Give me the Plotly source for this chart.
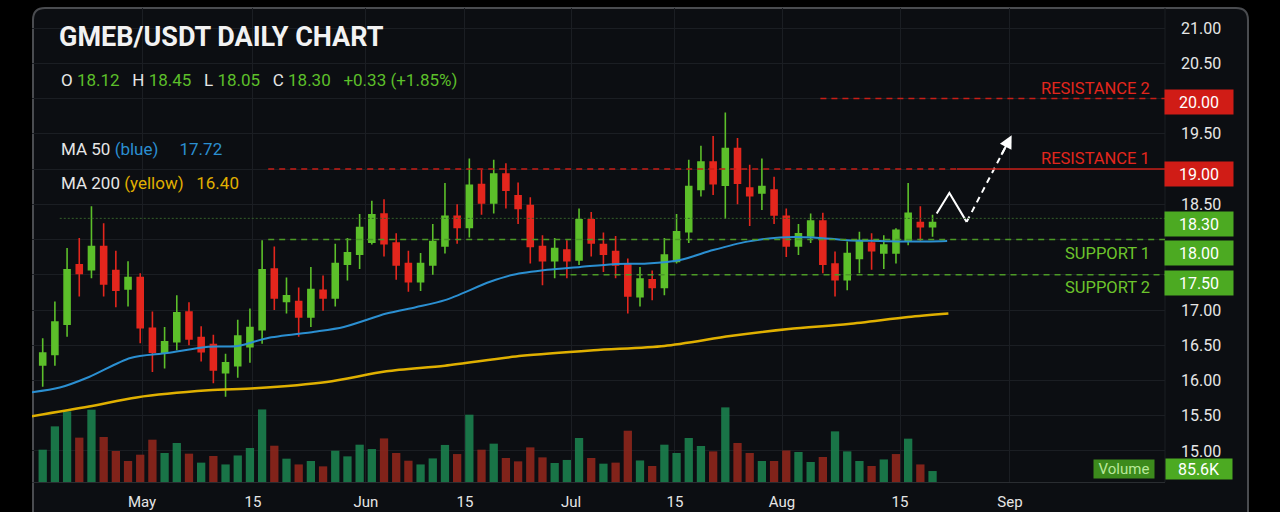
import plotly.graph_objects as go

# ---------------- data ----------------
OPEN = [16.22, 16.37, 16.80, 17.64, 17.57, 17.90, 17.56, 17.30, 17.46, 16.74,
        16.40, 16.55, 16.97, 16.61, 16.51, 16.11, 16.21, 16.48, 16.72, 17.58,
        17.12, 17.12, 16.90, 17.28, 17.17, 17.65, 17.79, 17.96, 18.36, 17.95,
        17.66, 17.40, 17.64, 17.91, 18.33, 18.17, 18.78, 18.52, 18.93, 18.62,
        18.48, 17.90, 17.70, 17.85, 17.71, 18.28, 17.93, 17.83, 17.64, 17.19,
        17.43, 17.32, 17.69, 18.11, 18.71, 19.10, 18.77, 19.29, 18.73, 18.66,
        18.70, 18.33, 17.91, 18.05, 18.26, 17.65, 17.43, 17.73, 17.95, 17.81,
        17.81, 17.99, 18.24, 18.18]
HIGH = [16.60, 17.12, 17.88, 18.02, 18.47, 18.23, 17.84, 17.69, 17.52, 16.98,
        16.76, 17.21, 17.11, 16.77, 16.65, 16.38, 16.86, 17.02, 17.99, 17.90,
        17.46, 17.32, 17.61, 17.49, 17.94, 18.02, 18.36, 18.55, 18.57, 18.09,
        17.84, 17.81, 18.22, 18.80, 18.50, 19.15, 18.99, 19.13, 19.08, 18.81,
        18.60, 18.06, 18.02, 17.99, 18.44, 18.39, 18.10, 18.05, 17.73, 17.61,
        17.56, 18.02, 18.36, 19.13, 19.33, 19.47, 19.80, 19.44, 19.06, 19.15,
        18.89, 18.44, 18.22, 18.37, 18.38, 17.83, 17.97, 18.11, 18.09, 18.06,
        18.16, 18.80, 18.47, 18.35]
LOW = [15.91, 16.21, 16.62, 17.19, 17.45, 17.19, 17.04, 17.05, 16.53, 16.12,
       16.17, 16.43, 16.50, 16.27, 15.96, 15.77, 16.04, 16.25, 16.52, 17.00,
       16.95, 16.62, 16.76, 16.99, 17.05, 17.42, 17.58, 17.93, 17.76, 17.43,
       17.26, 17.27, 17.50, 17.80, 17.94, 18.03, 18.35, 18.37, 18.44, 18.22,
       17.66, 17.35, 17.45, 17.45, 17.64, 17.76, 17.54, 17.45, 16.95, 17.05,
       17.14, 17.21, 17.66, 17.95, 18.61, 18.63, 18.29, 18.50, 18.19, 18.42,
       18.22, 17.75, 17.78, 17.95, 17.52, 17.19, 17.28, 17.52, 17.57, 17.58,
       17.66, 17.92, 17.97, 18.04]
CLOSE = [16.39, 16.83, 17.57, 17.52, 17.90, 17.37, 17.28, 17.46, 16.75, 16.40,
         16.55, 16.96, 16.59, 16.41, 16.15, 16.25, 16.63, 16.75, 17.57, 17.17,
         17.20, 16.90, 17.29, 17.17, 17.66, 17.81, 18.17, 18.35, 17.94, 17.64,
         17.40, 17.66, 17.97, 18.33, 18.17, 18.77, 18.52, 18.93, 18.70, 18.44,
         17.90, 17.70, 17.87, 17.70, 18.28, 17.95, 17.79, 17.64, 17.20, 17.44,
         17.32, 17.78, 18.11, 18.75, 19.10, 18.79, 19.29, 18.80, 18.62, 18.75,
         18.35, 17.91, 18.08, 18.26, 17.65, 17.43, 17.80, 17.97, 17.84, 17.92,
         18.13, 18.37, 18.18, 18.24]
VOLUME_K = [252, 434, 551, 346, 564, 351, 242, 164, 213, 330,
            226, 304, 221, 151, 203, 137, 207, 265, 566, 283,
            182, 137, 164, 122, 244, 200, 291, 257, 340, 226,
            166, 137, 184, 289, 218, 525, 252, 299, 187, 161,
            270, 192, 148, 172, 343, 187, 143, 151, 400, 168,
            125, 291, 226, 343, 281, 239, 582, 304, 226, 164,
            164, 246, 234, 156, 195, 395, 239, 164, 125, 176,
            218, 338, 137, 85.6]
VOLUME_UP = [1, 1, 1, 0, 1, 0, 0, 0, 0, 0,
             1, 1, 0, 1, 0, 1, 1, 1, 1, 0,
             1, 0, 1, 0, 1, 1, 1, 1, 0, 0,
             0, 1, 1, 1, 0, 1, 0, 1, 0, 0,
             0, 0, 1, 1, 1, 0, 1, 0, 0, 1,
             0, 1, 1, 1, 1, 0, 1, 0, 0, 1,
             0, 0, 1, 1, 0, 1, 1, 1, 0, 1,
             0, 1, 0, 1]

MA50_X = [-1.0, 1.4, 3.8, 7.2, 10.2, 13.6, 16.0, 18.4, 22.3, 24.7, 28.2, 30.6, 33.0,
          36.7, 38.6, 41.4, 44.1, 46.8, 49.6, 52.3, 55.0, 57.8, 60.5, 63.2, 66.0,
          68.7, 71.4, 74.2]
MA50_Y = [15.83, 15.90, 16.05, 16.32, 16.39, 16.48, 16.49, 16.60, 16.69, 16.76, 16.95,
          17.04, 17.14, 17.40, 17.50, 17.57, 17.61, 17.65, 17.66, 17.71, 17.85, 17.97,
          18.03, 18.03, 17.99, 17.98, 17.97, 17.98]
MA200_X = [-1.0, 3.8, 7.7, 13.6, 17.4, 23.3, 28.2, 33.0, 39.3, 45.2, 51.0, 56.4,
           61.2, 66.1, 71.0, 74.3]
MA200_Y = [15.49, 15.63, 15.76, 15.86, 15.89, 15.98, 16.13, 16.21, 16.35, 16.43,
           16.49, 16.63, 16.73, 16.80, 16.90, 16.95]

PROJ_X = [73.34, 74.38, 75.80, 79.49]
PROJ_Y = [18.37, 18.66, 18.25, 19.48]

TICK_POS = [8.15, 17.25, 26.52, 34.64, 43.34, 51.87, 60.65, 70.33, 79.35]
TICK_TEXT = ["May", "15", "Jun", "15", "Jul", "15", "Aug", "15", "Sep"]

PRICE_TICKS = [15.0, 15.5, 16.0, 16.5, 17.0, 17.5, 18.0, 18.5, 19.0, 19.5, 20.0, 20.5, 21.0]
BOXED_TICKS = [17.5, 18.0, 19.0, 20.0]

LEVEL_NAMES = ["RESISTANCE 2", "RESISTANCE 1", "SUPPORT 1", "SUPPORT 2"]
LEVEL_VALUES = [20.0, 19.0, 18.0, 17.5]
LEVEL_KIND = ["res", "res", "sup", "sup"]
LAST_PRICE = 18.30
LAST_VOLUME = "85.6K"
OHLC_LABELS = ["O", "H", "L", "C"]
OHLC_VALUES = ["18.12", "18.45", "18.05", "18.30"]
CHANGE_TEXT = "+0.33 (+1.85%)"
MA50_VALUE = "17.72"
MA200_VALUE = "16.40"
TITLE = "GMEB/USDT DAILY CHART"

# ---------------- style / layout ----------------
W, H = 1280, 512
ML, MR, MT, MB = 32, 115, 8, 30
PX0, PX1, PY0, PY1 = ML, W - MR, MT, H - MB
XR = [-0.878, 92.07]
YR = [14.56, 21.284]
VOL_RANGE = [0, 3697]

GREEN = "#5cbf2a"
RED = "#e3261d"
BLUE = "#2b8fd1"
YELLOW = "#e0b000"
PANEL = "#0c0e12"
GRID = "#1b1e23"
TXT = "#e6e6e6"
FONT = "Roboto"


def fx(px):
    return (px - PX0) / (PX1 - PX0)


def fy(py):
    return (PY1 - py) / (PY1 - PY0)


idx = list(range(len(OPEN)))
vol_colors = ["rgba(27,128,78,0.9)" if u else "rgba(142,38,28,0.9)" for u in VOLUME_UP]

fig = go.Figure()
fig.add_trace(go.Bar(x=idx, y=VOLUME_K, marker=dict(color=vol_colors, line=dict(width=0)),
                     width=0.68, yaxis="y", hoverinfo="skip"))
fig.add_trace(go.Scatter(x=MA200_X, y=MA200_Y, mode="lines", yaxis="y2",
                         line=dict(color=YELLOW, width=2.5, shape="spline", smoothing=0.8)))
fig.add_trace(go.Scatter(x=MA50_X, y=MA50_Y, mode="lines", yaxis="y2",
                         line=dict(color=BLUE, width=2, shape="spline", smoothing=0.8)))
fig.add_trace(go.Candlestick(x=idx, open=OPEN, high=HIGH, low=LOW, close=CLOSE, yaxis="y2",
                             whiskerwidth=0,
                             increasing=dict(line=dict(color=GREEN, width=1.6), fillcolor=GREEN),
                             decreasing=dict(line=dict(color=RED, width=1.6), fillcolor=RED)))
# projection path
fig.add_trace(go.Scatter(x=PROJ_X[:3], y=PROJ_Y[:3], mode="lines", yaxis="y2",
                         line=dict(color="white", width=2)))
fig.add_trace(go.Scatter(x=PROJ_X[2:], y=PROJ_Y[2:], mode="lines", yaxis="y2",
                         line=dict(color="white", width=2, dash="6px,5px")))

shapes = []
# panel
rx, ry = 12 / (PX1 - PX0), 12 / (PY1 - PY0)
x0, x1 = fx(33), fx(1248)
y0, y1 = fy(530), fy(8)
path = (f"M {x0+rx},{y1} L {x1-rx},{y1} Q {x1},{y1} {x1},{y1-ry} L {x1},{y0} "
        f"L {x0},{y0} L {x0},{y1-ry} Q {x0},{y1} {x0+rx},{y1} Z")
shapes.append(dict(type="path", path=path, xref="paper", yref="paper", layer="below",
                   fillcolor=PANEL, line=dict(color="#4a4c50", width=2)))
shapes.append(dict(type="line", xref="paper", yref="paper", x0=1, x1=1, y0=0, y1=1,
                   line=dict(color=GRID, width=1), layer="below"))

LEVEL_START = {20.0: 63.8, 19.0: 18.5, 18.0: 18.5, 17.5: 42.4}
for name, val, kind in zip(LEVEL_NAMES, LEVEL_VALUES, LEVEL_KIND):
    col = "#c81e17" if kind == "res" else "#4c9a26"
    if val == 19.0:
        shapes.append(dict(type="line", xref="x", yref="y2", x0=LEVEL_START[val], x1=75,
                           y0=val, y1=val, line=dict(color=col, width=1.6, dash="6px,5px")))
        shapes.append(dict(type="line", xref="x", yref="y2", x0=75, x1=XR[1],
                           y0=val, y1=val, line=dict(color=col, width=1.6)))
    else:
        shapes.append(dict(type="line", xref="x", yref="y2", x0=LEVEL_START[val], x1=XR[1],
                           y0=val, y1=val, line=dict(color=col, width=1.6, dash="6px,5px")))
shapes.append(dict(type="line", xref="x", yref="y2", x0=1.4, x1=XR[1], y0=LAST_PRICE,
                   y1=LAST_PRICE, line=dict(color="#35602a", width=1, dash="2px,2px")))

ann = []
ann.append(dict(text=f"<b>{TITLE}</b>", x=fx(57), y=fy(37), xref="paper", yref="paper",
                xanchor="left", yanchor="middle", showarrow=False,
                font=dict(family=FONT, size=27, color="#f2f2f2")))
parts = []
for lab, v in zip(OHLC_LABELS, OHLC_VALUES):
    parts.append(f'<span style="color:{TXT}">{lab}</span>&nbsp;<span style="color:{GREEN}">{v}</span>')
hdr = "&nbsp;&nbsp;&nbsp;".join(parts) + f'&nbsp;&nbsp;&nbsp;<span style="color:{GREEN}">{CHANGE_TEXT}</span>'
ann.append(dict(text=hdr, x=fx(59), y=fy(80), xref="paper", yref="paper", xanchor="left",
                yanchor="middle", showarrow=False, font=dict(family=FONT, size=17)))
ann.append(dict(text=f'<span style="color:{TXT}">MA 50 </span><span style="color:{BLUE}">(blue)&nbsp;&nbsp;&nbsp;&nbsp; {MA50_VALUE}</span>',
                x=fx(59), y=fy(149), xref="paper", yref="paper", xanchor="left", yanchor="middle",
                showarrow=False, font=dict(family=FONT, size=17)))
ann.append(dict(text=f'<span style="color:{TXT}">MA 200 </span><span style="color:{YELLOW}">(yellow)&nbsp;&nbsp; {MA200_VALUE}</span>',
                x=fx(59), y=fy(183), xref="paper", yref="paper", xanchor="left", yanchor="middle",
                showarrow=False, font=dict(family=FONT, size=17)))

# level labels and price boxes
LABEL_SHIFT = {20.0: 10.5, 19.0: 11, 18.0: -13.5, 17.5: -13}
BOX_SHIFT = {20.0: -3, 19.0: -4.5, 18.0: -13.5, 17.5: -8}
for name, val, kind in zip(LEVEL_NAMES, LEVEL_VALUES, LEVEL_KIND):
    col = "#e3261d" if kind == "res" else "#6cc42c"
    ann.append(dict(text=name, x=fx(1152), y=val, xref="paper", yref="y2", xanchor="right",
                    yanchor="middle", yshift=LABEL_SHIFT[val], showarrow=False,
                    font=dict(family=FONT, size=16.5, color=col)))
    bg = "#d01c16" if kind == "res" else "#4caa22"
    ann.append(dict(text=f"{val:.2f}", x=fx(1199), y=val, xref="paper", yref="y2",
                    xanchor="center", yanchor="middle", yshift=BOX_SHIFT[val], showarrow=False,
                    bgcolor=bg, width=62, height=18, borderpad=3,
                    font=dict(family=FONT, size=16, color="white")))
ann.append(dict(text=f"{LAST_PRICE:.2f}", x=fx(1199), y=LAST_PRICE, xref="paper", yref="y2",
                xanchor="center", yanchor="middle", yshift=-6, showarrow=False,
                bgcolor="#4caa22", width=62, height=18, borderpad=3,
                font=dict(family=FONT, size=16, color="white")))
ann.append(dict(text=LAST_VOLUME, x=fx(1199), y=fy(469), xref="paper", yref="paper",
                xanchor="center", yanchor="middle", showarrow=False,
                bgcolor="#4caa22", width=62, height=16, borderpad=2,
                font=dict(family=FONT, size=16, color="white")))
ann.append(dict(text="Volume", x=fx(1124), y=fy(469), xref="paper", yref="paper",
                xanchor="center", yanchor="middle", showarrow=False,
                bgcolor="#3c8a1c", width=56, height=14, borderpad=2,
                font=dict(family=FONT, size=15, color="#b8e89a")))
# arrow head
ann.append(dict(text="", x=PROJ_X[3], y=PROJ_Y[3], xref="x", yref="y2",
                ax=PROJ_X[3] - 0.9, ay=PROJ_Y[3] - 0.3, axref="x", ayref="y2",
                showarrow=True, arrowhead=2, arrowsize=1.3, arrowwidth=2, arrowcolor="white",
                standoff=0))

ticktext = ["" if v in BOXED_TICKS else f"{v:.2f}" for v in PRICE_TICKS]

fig.update_layout(
    width=W, height=H, margin=dict(l=ML, r=MR, t=MT, b=MB),
    paper_bgcolor="#000000", plot_bgcolor="rgba(0,0,0,0)",
    showlegend=False, shapes=shapes, annotations=ann,
    font=dict(family=FONT, color=TXT),
    xaxis=dict(range=XR, tickvals=TICK_POS, ticktext=TICK_TEXT, showgrid=True,
               gridcolor=GRID, gridwidth=1, zeroline=False, showline=True,
               linecolor="#2a2d31", ticks="", tickfont=dict(family=FONT, size=15, color=TXT),
               rangeslider=dict(visible=False), ticklabelstandoff=6, fixedrange=True,
               automargin=False),
    yaxis=dict(range=VOL_RANGE, visible=False, showgrid=False, fixedrange=True,
               automargin=False),
    yaxis2=dict(range=YR, overlaying="y", side="right", tickvals=PRICE_TICKS,
                ticktext=ticktext, showgrid=True, gridcolor=GRID, gridwidth=1,
                zeroline=False, ticks="", ticklabelstandoff=15, automargin=False,
                tickfont=dict(family=FONT, size=16, color=TXT), fixedrange=True),
)

fig.write_html("out.html", config={"displayModeBar": False, "staticPlot": True},
               post_script="document.body.style.margin='0px';document.body.style.background='#000';")
